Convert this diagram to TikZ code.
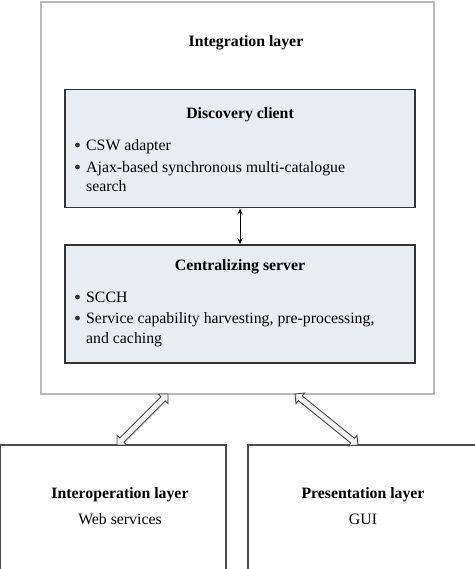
\documentclass[tikz,border=0pt]{standalone}
\usepackage{fontspec}
\setmainfont{Liberation Serif}
\usetikzlibrary{shapes.arrows,calc,arrows.meta}

\definecolor{panelfill}{HTML}{E9EDF1}

\begin{document}
\begin{tikzpicture}[x=1pt, y=1pt,
  every node/.style={font=\fontsize{15.8}{19}\selectfont},
  outerbox/.style={draw=gray!55, line width=1.6pt, inner sep=0pt},
  panel/.style={draw=gray!40!black, fill=panelfill, line width=1.6pt, inner sep=0pt,
    minimum width=350, minimum height=118},
  layerbox/.style={draw=gray!60!black, line width=1.2pt, inner sep=0pt, minimum height=136},
  title/.style={font=\fontsize{15.8}{19}\selectfont\bfseries},
  item/.style={anchor=base west, inner sep=0pt},
  dot/.style={circle, fill=black!80, inner sep=0pt, minimum size=4.8pt},
  fatarrow/.style={double arrow, draw=gray!55!black, fill=gray!10, line width=0.9pt,
    inner xsep=0pt, inner ysep=2.6pt, double arrow head extend=3.8pt,
    double arrow tip angle=90}]
  \useasboundingbox (0,0) rectangle (474,569);

  % Integration layer
  \node[outerbox, minimum width=393, minimum height=392] (integ) at (237.5,371) {};
  \node[title] (integT) at (246,526) {Integration layer};

  % Discovery client
  \node[panel] (disc) at (240,420.5) {};
  \node[title] (discT) at (240,454) {Discovery client};
  \node[dot] (d1) at (77.5,424) {};
  \node[item] (d1T) at (86,418.5) {CSW adapter};
  \node[dot] (d2) at (77.5,402) {};
  \node[item] (d2T) at (86,396.5) {Ajax-based synchronous multi-catalogue};
  \node[item] (d3T) at (86,377.5) {search};

  % Centralizing server
  \node[panel] (centr) at (240,265) {};
  \node[title] (centrT) at (240,302) {Centralizing server};
  \node[dot] (c1) at (77.5,272) {};
  \node[item] (c1T) at (86,266.5) {SCCH};
  \node[dot] (c2) at (77.5,251) {};
  \node[item] (c2T) at (86,245.5) {Service capability harvesting, pre-processing,};
  \node[item] (c3T) at (86,225.5) {and caching};

  \draw[{Stealth[length=6pt,width=5pt]}-{Stealth[length=6pt,width=5pt]}, line width=0.9pt]
    (disc.south) -- (centr.north);

  % Bottom layers
  \node[layerbox, minimum width=226] (interop) at (113,56) {};
  \node[title] (interopT) at (120,74) {Interoperation layer};
  \node (interopS) at (120,50) {Web services};
  \node[layerbox, minimum width=232] (present) at (364,56) {};
  \node[title] (presentT) at (363,74) {Presentation layer};
  \node (presentS) at (363,50) {GUI};

  % Hollow double arrows
  \coordinate (la) at (117,124);
  \coordinate (lb) at (168,175);
  \coordinate (ra) at (295,175);
  \coordinate (rb) at (358,124);
  \path let \p1=($(lb)-(la)$), \n1={atan2(\y1,\x1)}, \n2={veclen(\x1,\y1)} in
    node[fatarrow, rotate=\n1, minimum height=\n2] (larrow) at ($(la)!0.5!(lb)$) {};
  \path let \p1=($(rb)-(ra)$), \n1={atan2(\y1,\x1)}, \n2={veclen(\x1,\y1)} in
    node[fatarrow, rotate=\n1, minimum height=\n2] (rarrow) at ($(ra)!0.5!(rb)$) {};
\end{tikzpicture}
\end{document}
